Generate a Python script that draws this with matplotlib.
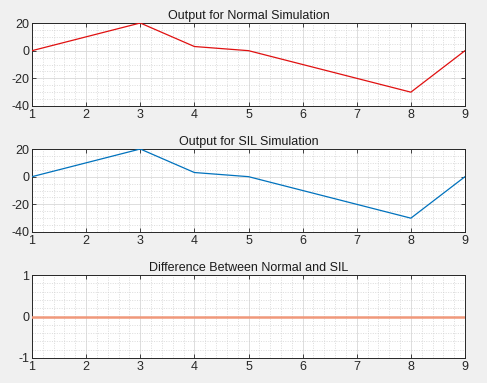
import numpy as np
import matplotlib.pyplot as plt
from matplotlib.ticker import MultipleLocator

plt.rcParams['font.family'] = ['Liberation Sans', 'DejaVu Sans']
plt.rcParams['axes.unicode_minus'] = False

# Simulation outputs
t = [1, 2, 3, 4, 5, 6, 7, 8, 9]
y_normal = [0, 10, 20, 3, 0, -10, -20, -30, 0]
y_sil = [0, 10, 20, 3, 0, -10, -20, -30, 0]
y_diff = [a - b for a, b in zip(y_normal, y_sil)]

titles = ['Output for Normal Simulation', 'Output for SIL Simulation',
          'Difference Between Normal and SIL']
colors = ['#e01010', '#0072bd', '#f0987a']
widths = [0.9, 0.9, 1.8]

fig = plt.figure(figsize=(4.87, 3.83), dpi=100, facecolor='#f0f0f0')

# axes boxes in pixels (left, top, right, bottom)
W, H = 487, 383
boxes = [(32, 23, 465, 106), (32, 149, 465, 232), (32, 275, 465, 358)]
series = [y_normal, y_sil, y_diff]

for i, (x0, y0, x1, y1) in enumerate(boxes):
    ax = fig.add_axes([x0 / W, 1 - y1 / H, (x1 - x0) / W, (y1 - y0) / H])
    ax.plot(t, series[i], color=colors[i], lw=widths[i], zorder=3)
    ax.set_xlim(1, 9)
    ax.xaxis.set_major_locator(MultipleLocator(1))
    ax.xaxis.set_minor_locator(MultipleLocator(0.2))
    if i < 2:
        ax.set_ylim(-40, 20)
        ax.yaxis.set_major_locator(MultipleLocator(20))
        ax.yaxis.set_minor_locator(MultipleLocator(5))
    else:
        ax.set_ylim(-1, 1)
        ax.yaxis.set_major_locator(MultipleLocator(1))
        ax.yaxis.set_minor_locator(MultipleLocator(0.2))
    ax.grid(which='major', color='#d8d8d8', lw=0.6)
    ax.grid(which='minor', color='#d0d0d0', lw=0.5, ls=(0, (1.5, 2)))
    ax.set_axisbelow(True)
    ax.tick_params(which='major', direction='in', top=True, right=True,
                   length=3, width=0.6, labelsize=9, colors='#262626', pad=2)
    ax.tick_params(which='minor', length=0)
    for s in ax.spines.values():
        s.set_linewidth(0.7)
        s.set_color('#262626')
    ax.set_title(titles[i], fontsize=9, color='#1a1a1a', pad=3)

plt.savefig('out.png', dpi=100, facecolor=fig.get_facecolor())
